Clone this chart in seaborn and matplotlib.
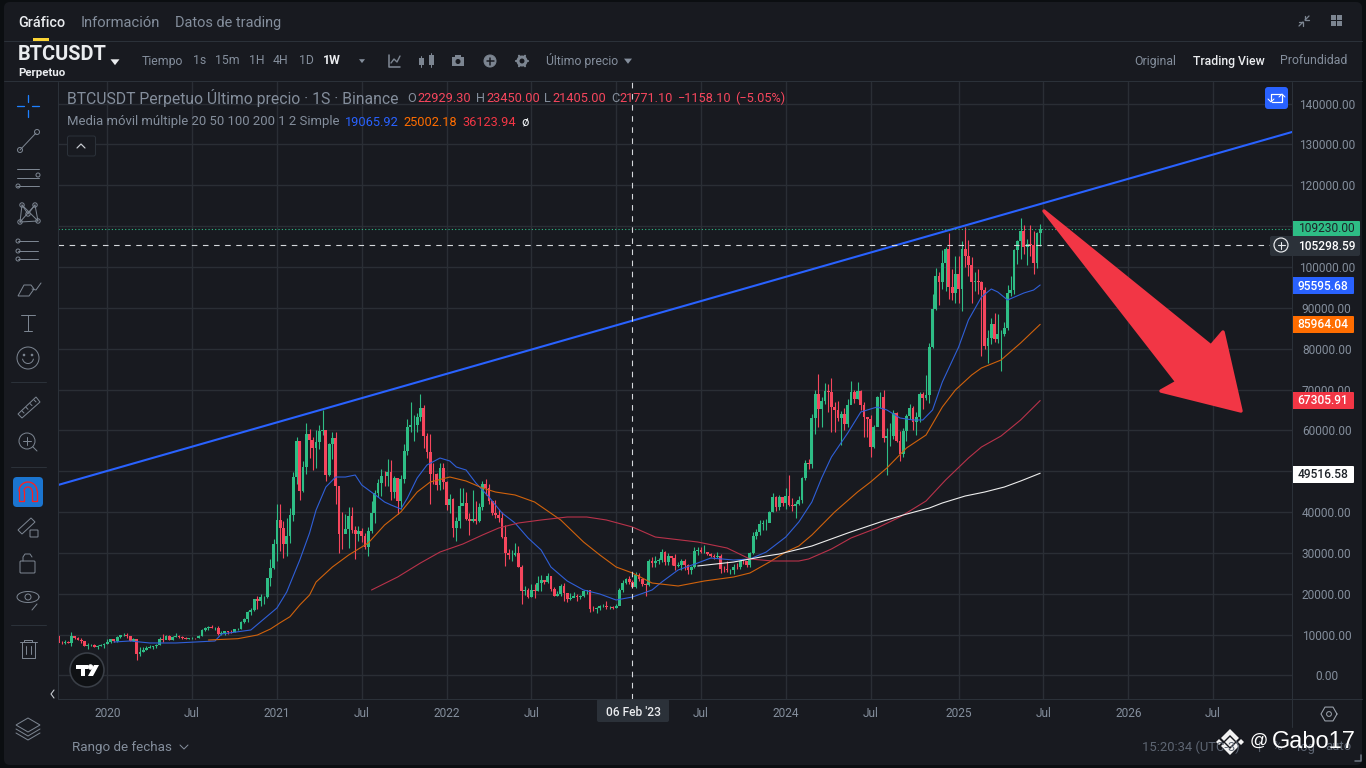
import matplotlib
matplotlib.use("Agg")
import matplotlib.pyplot as plt
import numpy as np
import pandas as pd
import seaborn as sns
from matplotlib.patches import Circle, FancyBboxPatch, Polygon, Rectangle

# weekly BTCUSDT candles, first week is 23 Sep 2019, last is 30 Jun 2025
first_open = 9700
closes_2019 = [8040, 7860, 8280, 7960, 9550, 9200, 8800, 8460, 7320, 7400, 7510, 7070, 7200, 7380, 7750]
highs_2019 = [10060, 8530, 8780, 8470, 10540, 9590, 9500, 9080, 8490, 7860, 7760, 7590, 7520, 7690, 7850]
lows_2019 = [7980, 7700, 7780, 7880, 7300, 8990, 8700, 8000, 7180, 6530, 7150, 7030, 6440, 7100, 6850]

closes_2020 = [8180, 8900, 8440, 9330, 9910, 9920, 9660, 8530, 8900, 5180, 5820, 6240, 6770,
               6860, 7120, 7540, 8880, 8720, 9670, 8720, 9450, 9670, 9470, 9300, 9000, 9070,
               9300, 9160, 9700, 11050, 11680, 11850, 11650, 11650, 10250, 10320, 10920, 10730, 10670,
               11370, 11500, 13030, 13760, 15480, 15970, 18680, 18180, 19150, 19170, 23870, 26400, 32170]
highs_2020 = [8880, 8990, 8790, 9550, 9950, 10500, 10370, 9700, 9200, 8170, 6900, 6970, 7190,
              7460, 7300, 7780, 9460, 10070, 9950, 9800, 9600, 10380, 10000, 9690, 9340, 9270,
              9470, 9300, 9850, 11420, 11800, 12090, 12470, 11790, 12050, 10780, 11000, 10990, 11050,
              11500, 11720, 13240, 14100, 15700, 16480, 18800, 19450, 19850, 19450, 23950, 28400, 33300]
lows_2020 = [7680, 8000, 8220, 8270, 9150, 9700, 9300, 8420, 8380, 3800, 4800, 5700, 6150,
             6800, 6570, 6720, 7470, 8200, 8820, 8650, 8630, 9350, 9200, 8900, 8830, 8850,
             8880, 9050, 9100, 9600, 10900, 11200, 11550, 11150, 9800, 9880, 9830, 10130, 10370,
             10530, 11180, 11400, 12750, 13200, 14800, 15850, 16300, 17000, 17550, 18900, 21900, 26000]

closes_2021 = [38150, 36020, 32280, 34260, 39250, 48600, 57400, 45250, 50970, 59000, 57650, 55800, 57050,
               59770, 60000, 49100, 56600, 58200, 46400, 34700, 34600, 35800, 39000, 35600, 34700, 35300,
               34250, 31530, 35400, 39870, 44600, 47050, 48900, 48850, 49900, 45000, 48300, 42700, 48200,
               54960, 60860, 61300, 61300, 63270, 65500, 58600, 54750, 49400, 49300, 46700, 50800, 47300]
highs_2021 = [41950, 42000, 37850, 38550, 40950, 49700, 58350, 57500, 52600, 61700, 60400, 58400, 60000,
              61200, 64900, 57500, 57000, 59500, 59600, 45800, 40000, 39500, 41300, 41300, 36700, 36500,
              36000, 35000, 36400, 42600, 45300, 48100, 50500, 50000, 52900, 52800, 48800, 48300, 49200,
              56600, 62900, 67000, 63700, 64300, 69000, 66300, 59400, 59100, 51900, 49500, 51900, 52100]
lows_2021 = [28000, 30400, 28800, 29300, 32400, 37900, 47000, 43000, 45000, 49300, 53200, 50400, 50800,
             55500, 58900, 47500, 48800, 52900, 42100, 30000, 31000, 34900, 31100, 34800, 28600, 33000,
             32700, 30900, 29300, 34900, 37400, 43800, 43900, 46400, 46500, 42900, 43400, 39500, 40800,
             47100, 53900, 59500, 57400, 59500, 62300, 55600, 53300, 42000, 46800, 45500, 45500, 45700]

closes_2022 = [41800, 43100, 36200, 37900, 41400, 42200, 38350, 37700, 38400, 37800, 41300, 46850, 45800,
               42760, 39700, 39400, 38600, 34000, 30080, 29440, 29450, 29900, 26570, 20570, 21030, 19300,
               20840, 20780, 22580, 23300, 22940, 24300, 21170, 19550, 19990, 21800, 20120, 18800, 19040,
               19440, 19260, 19570, 20630, 20920, 16330, 16280, 16430, 17090, 17100, 16750, 16840, 16540]
highs_2022 = [47500, 44500, 43500, 38900, 45800, 45800, 44800, 39800, 45400, 42600, 42300, 47700, 48200,
              47000, 41600, 42900, 40800, 40000, 36800, 31000, 30700, 32400, 31600, 27000, 21900, 21500,
              22500, 22400, 24300, 24700, 23500, 25100, 24400, 21700, 20600, 22300, 22700, 19700, 20100,
              20500, 19900, 19700, 20900, 21000, 21000, 17100, 16800, 17300, 17400, 18300, 16900, 16950]
lows_2022 = [40500, 39700, 34000, 32900, 36200, 41700, 38000, 34300, 37500, 37100, 37600, 40500, 44200,
             42100, 39200, 38500, 37600, 33600, 26700, 28600, 28000, 29300, 26500, 17600, 19600, 18900,
             19300, 18900, 20700, 20700, 22400, 22700, 20800, 19500, 19500, 19500, 18300, 18100, 18500,
             19100, 18200, 18650, 19300, 20000, 15600, 15800, 15400, 16000, 16700, 16300, 16350, 16300]

closes_2023 = [17130, 20870, 22710, 23730, 22929.3, 21771.1, 24600, 23550, 22340, 22160, 27960, 27480, 27960,
               28320, 30300, 27800, 29200, 28880, 26900, 27100, 28080, 27100, 25900, 26500, 30500, 30600,
               30300, 30300, 29770, 29350, 29050, 29300, 26100, 26000, 25800, 25900, 26600, 26570, 27970,
               27920, 27150, 29990, 34070, 35030, 37050, 37380, 37450, 39970, 43790, 41370, 43700, 42150]
highs_2023 = [17400, 21300, 23400, 23850, 24250, 23450, 25250, 25000, 23900, 22600, 28600, 28900, 29200,
              28800, 31000, 30500, 30000, 29300, 29800, 27700, 28450, 28450, 27350, 26800, 31400, 31400,
              31500, 31850, 30350, 30000, 29700, 30200, 29700, 26800, 28150, 26100, 27400, 27500, 28050,
              28600, 28000, 30350, 35200, 35900, 38000, 37950, 38400, 40250, 44700, 44000, 44300, 43800]
lows_2023 = [16500, 17300, 20400, 22300, 22500, 21405, 21400, 23100, 21900, 19550, 21900, 26600, 26500,
             27200, 27800, 27100, 26950, 26950, 25800, 26500, 25900, 25850, 24800, 24800, 26300, 29500,
             29900, 29950, 29500, 28900, 28600, 28650, 25150, 25350, 25350, 24900, 24950, 26000, 26000,
             27200, 26550, 26550, 29800, 33400, 34500, 35500, 35600, 37500, 39950, 40250, 40500, 41400]

closes_2024 = [43950, 41730, 41580, 42030, 43000, 48300, 52140, 51700, 63100, 68950, 65300, 67200, 69600,
               69350, 65650, 64950, 63100, 64000, 61500, 66250, 69300, 67750, 69650, 66200, 63200, 62700,
               55850, 60800, 68150, 68250, 58100, 58700, 58700, 64200, 57300, 54150, 59950, 63600, 65600, 62000,
               63200, 69000, 68000, 68700, 80400, 89800, 97900, 96400, 101100, 104400, 95100, 93600, 98300]
highs_2024 = [45900, 49100, 43500, 42800, 43900, 48600, 52850, 52950, 64000, 70000, 73900, 68100, 71700,
              71300, 72800, 66900, 67300, 64700, 65500, 67700, 72000, 70000, 71900, 70000, 67000, 63400,
              63800, 61400, 68400, 69400, 70000, 60700, 61800, 65000, 64500, 59800, 60700, 64100, 66500, 66000,
              64500, 69500, 69500, 73600, 81500, 93500, 99800, 98700, 104100, 105000, 108300, 99500, 102700]
lows_2024 = [40750, 41500, 40200, 38500, 41800, 42250, 47800, 50500, 50900, 59000, 60800, 60800, 66500,
             64500, 59600, 59600, 62400, 56500, 60200, 60800, 66600, 66600, 67600, 65100, 58400, 58400,
             53500, 55700, 62400, 65400, 57200, 49000, 56100, 57800, 57200, 52500, 53600, 57500, 62700, 60000,
             58900, 62000, 65300, 67500, 66800, 80200, 89400, 90800, 94500, 94200, 92200, 92000, 91200]

closes_2025 = [94500, 104400, 102600, 100600, 96400, 96500, 96300, 94300, 80700, 82500, 86000, 82400, 83500,
               83700, 85100, 93700, 94300, 104100, 106400, 108900, 105000, 105700, 105500, 100900, 108300, 109230]
highs_2025 = [102700, 106400, 109900, 106500, 102500, 98800, 99500, 96500, 95000, 84700, 87500, 88700, 88500,
              84500, 86500, 95700, 97900, 104300, 106700, 112000, 110400, 106800, 110300, 108900, 108500, 110500]
lows_2025 = [91300, 89300, 100000, 97800, 91200, 94100, 93400, 78200, 80000, 76600, 81100, 81600, 81300,
             74500, 83100, 84700, 92900, 93400, 100700, 102000, 103100, 100400, 102700, 98200, 99700, 105100]

# moving averages at a sample of weeks
ma20_weeks = [17, 22, 28, 36, 42, 48, 50, 59, 67, 70, 74, 77, 79, 82, 85, 88, 91, 93, 98, 100, 102, 105, 107, 110,
              113, 117, 120, 122, 125, 128, 132, 136, 140, 144, 148, 151, 156, 161, 166, 171, 176, 182, 185, 190,
              196, 200, 207, 212, 217, 223, 227, 231, 234, 237, 242, 246, 251, 254, 258, 262, 265, 268, 271, 276,
              279, 283, 286, 288, 291, 296, 299, 301]
ma20_values = [8200, 8450, 7960, 7960, 8200, 8450, 10160, 11140, 16520, 20440, 28270, 34880, 40510, 46140, 48590,
               48590, 49080, 46630, 43700, 42470, 41740, 40760, 43450, 48350, 51530, 53240, 52510, 51040, 50300,
               47120, 43700, 39780, 37330, 33660, 30720, 26560, 23130, 20930, 19950, 18480, 19220, 20930, 22890,
               25830, 27540, 28760, 28270, 28520, 30230, 33900, 37580, 42470, 48350, 53490, 59360, 64510, 65730,
               65000, 63040, 62550, 62550, 65000, 71850, 80420, 87030, 92660, 94620, 93880, 91920, 93640, 94370, 95595]
ma50_weeks = [46, 55, 61, 65, 68, 71, 74, 77, 79, 84, 89, 95, 100, 105, 110, 114, 120, 125, 130, 134, 140, 146, 150,
              154, 161, 166, 171, 176, 182, 190, 198, 207, 212, 218, 223, 227, 231, 238, 245, 249, 254, 260, 266,
              271, 275, 280, 283, 289, 295, 301]
ma50_values = [8690, 9010, 9910, 11380, 12930, 14400, 17260, 19700, 22890, 26560, 29500, 32440, 36840, 40030, 44920,
               47370, 48590, 47610, 45900, 44920, 44190, 42470, 40270, 38070, 32680, 29500, 26560, 25090, 22640,
               21910, 23130, 24110, 25090, 27780, 30230, 31700, 34390, 40030, 44920, 47370, 50800, 55690, 58870,
               65730, 69890, 73560, 75280, 77230, 81400, 85964]
ma100_weeks = [96, 104, 111, 117, 124, 130, 135, 141, 148, 156, 162, 168, 176, 183, 196, 205, 212, 219, 227, 230,
               237, 243, 251, 258, 266, 272, 279, 283, 289, 295, 301]
ma100_values = [20930, 24110, 27540, 30230, 32190, 34390, 36110, 37330, 38070, 38800, 38800, 38070, 36350, 33900,
                32680, 31210, 28520, 28030, 28030, 28520, 30960, 33660, 36110, 38800, 42720, 47860, 53240, 55940,
                58630, 62550, 67305]
ma200_weeks = [196, 207, 217, 221, 231, 242, 252, 259, 267, 271, 278, 284, 290, 295, 301]
ma200_values = [26810, 27780, 29250, 29740, 31700, 34880, 37580, 39290, 41000, 42230, 43940, 44920, 46140, 47610, 49516]

trend_weeks = [-0.12, 378.2]
trend_prices = [46630, 133050]

y_ticks = [0, 10000, 20000, 30000, 40000, 50000, 60000, 70000, 80000, 90000, 100000, 110000, 120000, 130000, 140000]
x_ticks = [15, 41, 67, 93, 119, 145, 171, 197, 223, 249, 276, 302, 328, 354]
x_labels = ["2020", "Jul", "2021", "Jul", "2022", "Jul", "2023", "Jul", "2024", "Jul", "2025", "Jul", "2026", "Jul"]

last_price = 109230.00
cross_price = 105298.59
cross_week = 176

BG = "#181a20"
EDGE = "#0b0e11"
LINE = "#2b3139"
GRID = "#2a2e35"
GRAY = "#848e9c"
ICON = "#7c8591"
GREEN = "#2ebd85"
RED = "#f6465d"
ALERT = "#f23645"
BLUE = "#2962ff"
ORANGE = "#ff6d00"

sns.set_theme(style="dark", rc={"axes.facecolor": BG, "figure.facecolor": EDGE, "axes.edgecolor": BG})
plt.rcParams["font.family"] = ["Roboto", "DejaVu Sans"]

candles = pd.DataFrame({
    "close": closes_2019 + closes_2020 + closes_2021 + closes_2022 + closes_2023 + closes_2024 + closes_2025,
    "high": highs_2019 + highs_2020 + highs_2021 + highs_2022 + highs_2023 + highs_2024 + highs_2025,
    "low": lows_2019 + lows_2020 + lows_2021 + lows_2022 + lows_2023 + lows_2024 + lows_2025,
})
candles["week"] = candles.index
candles["open"] = candles["close"].shift(1).fillna(first_open)
candles["color"] = np.where(candles["close"] >= candles["open"], GREEN, RED)

ma_df = pd.concat([
    pd.DataFrame({"week": ma20_weeks, "price": ma20_values, "ma": "20"}),
    pd.DataFrame({"week": ma50_weeks, "price": ma50_values, "ma": "50"}),
    pd.DataFrame({"week": ma100_weeks, "price": ma100_values, "ma": "100"}),
    pd.DataFrame({"week": ma200_weeks, "price": ma200_values, "ma": "200"}),
])
ma_palette = {"20": "#2f5fd8", "50": "#d0620c", "100": "#b8324a", "200": "#ededed"}

fig = plt.figure(figsize=(13.66, 7.68), dpi=100)
W, H = 1366.0, 768.0
bg = fig.add_axes([0, 0, 1, 1], zorder=0)
bg.set_xlim(0, W)
bg.set_ylim(H, 0)
bg.axis("off")
bg.add_patch(FancyBboxPatch((4, 2), W - 8, H - 5, boxstyle="round,pad=0,rounding_size=6", fc=BG, ec="none"))

ax = fig.add_axes([58 / W, (H - 699) / H, (1292 - 58) / W, (699 - 82) / H], zorder=1)
ax.set_facecolor(BG)
ax.set_xlim(-0.12, 378.2)
ax.set_ylim(-5753, 145289)
ax.set_xticks(x_ticks, x_labels)
ax.set_yticks(y_ticks, [f"{v:.2f}" for v in y_ticks])
ax.yaxis.tick_right()
ax.tick_params(axis="x", length=0, pad=5.5, labelsize=8.6, labelcolor=GRAY)
ax.tick_params(axis="y", length=0, pad=25, labelsize=8.6, labelcolor=GRAY)
for t in ax.get_yticklabels():
    t.set_horizontalalignment("center")
ax.grid(True, color=GRID, lw=1.0)
for s in ax.spines.values():
    s.set_visible(False)
ax.set_axisbelow(True)

ax.vlines(candles["week"], candles["low"], candles["high"], colors=candles["color"], lw=0.8, zorder=2)
ax.bar(candles["week"], (candles["close"] - candles["open"]).abs(),
       bottom=candles[["open", "close"]].min(axis=1), width=0.86, color=candles["color"], lw=0, zorder=3)

sns.lineplot(data=ma_df, x="week", y="price", hue="ma", palette=ma_palette, estimator=None, sort=False,
             legend=False, lw=0.8, ax=ax, zorder=4)
sns.lineplot(x=trend_weeks, y=trend_prices, color=BLUE, lw=1.5, ax=ax, zorder=5)
ax.set_xlabel("")
ax.set_ylabel("")
ax.axhline(last_price, color=GREEN, lw=0.8, ls=(0, (1, 2)), zorder=5)
ax.axhline(cross_price, color="#d5d8dc", lw=0.8, ls=(0, (5, 5)), zorder=6)
ax.axvline(cross_week, color="#d5d8dc", lw=0.8, ls=(0, (5, 5)), zorder=6)

# everything around the plot, in screen pixels
ui = fig.add_axes([0, 0, 1, 1], zorder=2)
ui.set_xlim(0, W)
ui.set_ylim(H, 0)
ui.patch.set_alpha(0)
ui.axis("off")
ui.autoscale(False)


def txt(x, y, s, c=GRAY, px=12, ha="left", weight="normal", **kw):
    return ui.text(x, y, s, color=c, fontsize=px * 0.72, ha=ha, va="center", fontweight=weight, **kw)


def seg(xs, ys, c=ICON, lw=1.0):
    ui.plot(xs, ys, color=c, lw=lw * 0.72, solid_capstyle="round", solid_joinstyle="round")


def ring(x, y, r, ec=ICON, fc="none", lw=1.0):
    ui.add_patch(Circle((x, y), r, fc=fc, ec=ec, lw=lw * 0.72))


def rbox(x0, y0, x1, y1, fc, ec="none", r=2):
    ui.add_patch(FancyBboxPatch((x0, y0), x1 - x0, y1 - y0, boxstyle=f"round,pad=0,rounding_size={r}",
                                fc=fc, ec=ec, lw=0.72))


def tri(x, y, s, c):
    ui.add_patch(Polygon([(x - s, y - s * 0.6), (x + s, y - s * 0.6), (x, y + s * 0.7)], fc=c, ec="none"))


# separators
seg([4, 1362], [41, 41], LINE)
seg([4, 1362], [81, 81], LINE)
seg([58, 58], [82, 699], LINE)
seg([58, 1362], [699, 699], LINE)
seg([1292, 1292], [82, 727], LINE)

# header
txt(18, 23, "Gráfico", "#eaecef", 14.4, weight="medium")
txt(81, 23, "Información", GRAY, 14.7)
txt(175, 23, "Datos de trading", GRAY, 14.5)
ui.add_patch(Rectangle((33, 38), 16, 3, fc="#fcd535", ec="none"))
txt(18, 54, "BTCUSDT", "#eaecef", 20, weight="bold")
txt(18, 73, "Perpetuo", "#eaecef", 11.5, weight="bold")
tri(115, 62, 4.5, "#eaecef")
for xp, s in [(142, "Tiempo"), (193, "1s"), (215, "15m"), (249, "1H"), (273, "4H"), (299, "1D")]:
    txt(xp, 61, s, GRAY, 12.2)
txt(323, 61, "1W", "#eaecef", 12.2, weight="bold")
tri(362, 61, 3, GRAY)
txt(546, 61, "Último precio", GRAY, 12.2)
tri(628, 61, 4, GRAY)
txt(1134, 61, "Original", GRAY, 12.2)
txt(1193, 61, "Trading View", "#eaecef", 12.2, weight="medium")
txt(1280, 61, "Profundidad", GRAY, 12.2)

# toolbar icons
seg([389, 389, 400], [55, 67, 67], ICON, 1.6)
seg([391, 394, 397, 400], [63, 59, 62, 56], ICON, 1.4)
for xp, y0, y1 in [(421, 58, 65), (431, 55, 65)]:
    seg([xp, xp], [y0 - 2, y1 + 2], ICON, 1)
    ui.add_patch(Rectangle((xp - 2.5, y0), 5, y1 - y0, fc=ICON, ec="none"))
ui.add_patch(Rectangle((452, 57), 12, 9, fc=ICON, ec="none"))
ui.add_patch(Rectangle((455, 55), 6, 2, fc=ICON, ec="none"))
ring(458, 61.5, 2, BG, BG)
ring(490, 61, 6, ICON, ICON)
seg([486.5, 493.5], [61, 61], BG, 1.5)
seg([490, 490], [57.5, 64.5], BG, 1.5)
ring(522, 61, 4, ICON, "none", 3)
for a in np.arange(0, 360, 60):
    seg([522 + 4.5 * np.cos(np.radians(a)), 522 + 6 * np.cos(np.radians(a))],
        [61 + 4.5 * np.sin(np.radians(a)), 61 + 6 * np.sin(np.radians(a))], ICON, 2.2)

# top right icons
seg([1299, 1303], [26, 22], ICON, 1.3)
seg([1305, 1309], [20, 16], ICON, 1.3)
seg([1299, 1303, 1303], [22, 22, 26], ICON, 1.3)
seg([1305, 1305, 1309], [16, 20, 20], ICON, 1.3)
for xp, yp in [(1331, 15), (1337, 15), (1331, 21), (1337, 21)]:
    ui.add_patch(Rectangle((xp, yp), 5, 5, fc=ICON, ec="none"))

# legend rows
txt(67, 98, "BTCUSDT Perpetuo Último precio · 1S · Binance", GRAY, 15.8)
for xp, s in [(407, "O"), (476, "H"), (544, "L"), (611, "C")]:
    txt(xp, 98, s, GRAY, 12.7)
for xp, s in [(417, "22929.30"), (486, "23450.00"), (552, "21405.00"), (619, "21771.10"),
              (678, "−1158.10"), (735, "(−5.05%)")]:
    txt(xp, 98, s, RED, 12.7)
txt(67, 122, "Media móvil múltiple 20 50 100 200 1 2 Simple", GRAY, 13.1)
txt(345, 122, "19065.92", BLUE, 12.7)
txt(403, 122, "25002.18", ORANGE, 12.7)
txt(462, 122, "36123.94", ALERT, 12.7)
txt(521, 122, "ø", "#eaecef", 13)
rbox(67.5, 136, 95.5, 156, BG, LINE, 2)
seg([77, 81, 85], [148, 144, 148], "#c8ccd2", 1.2)
rbox(1265, 87, 1288, 109, "#2962ff", "none", 3)
seg([1271, 1271, 1281], [101, 94, 94], "#ffffff", 1.2)
seg([1282, 1282, 1272], [95, 102, 102], "#ffffff", 1.2)
seg([1279, 1282, 1285], [97, 94, 97], "#ffffff", 1.0)
seg([1268, 1271, 1274], [99, 102, 99], "#ffffff", 1.0)

# price labels on the right axis
rbox(1292, 221, 1360, 236, GREEN, r=1)
txt(1327, 229, "109230.00", "#1e2329", 12, ha="center")
rbox(1270, 236, 1360, 256, "#2b3139", r=2)
txt(1327, 246, "105298.59", "#ffffff", 12, ha="center", weight="medium")
ring(1281, 245, 7, "#eaecef", "none", 1.2)
seg([1277.5, 1284.5], [245, 245], "#eaecef", 1.1)
seg([1281, 1281], [241.5, 248.5], "#eaecef", 1.1)
for y0, y1, fc, tc, s in [(277, 294, BLUE, "#ffffff", "95595.68"), (316, 333, ORANGE, "#ffffff", "85964.04"),
                          (392, 409, ALERT, "#ffffff", "67305.91"), (466, 483, "#ffffff", "#1e2329", "49516.58")]:
    rbox(1292, y0, 1354, y1, fc, r=1)
    txt(1323, (y0 + y1) / 2 + 0.5, s, tc, 12, ha="center", weight="medium")

# crosshair date
rbox(597, 699, 669, 722, "#2b3139", r=2)
txt(633, 712, "06 Feb '23", "#eaecef", 12, ha="center", weight="medium")

# the big hand drawn arrow
ui.add_patch(Polygon([(1044, 211), (1211, 346), (1223, 332), (1241, 411), (1161, 391), (1177, 382)],
                     closed=True, fc=ALERT, ec=ALERT, lw=2.5, joinstyle="round"))

# left tool bar
seg([17, 24], [106, 106], "#1e80ff", 1.3)
seg([32, 39], [106, 106], "#1e80ff", 1.3)
seg([28, 28], [95, 102], "#1e80ff", 1.3)
seg([28, 28], [110, 117], "#1e80ff", 1.3)
seg([20, 36], [150, 133], ICON)
ring(20, 150, 2.5, ICON, BG)
ring(37, 132, 2.5, ICON, BG)
for yp in [169, 178, 186]:
    seg([17, 39], [yp, yp], ICON)
ring(38, 175, 2, ICON, BG)
ring(18, 186, 2, ICON, BG)
pts = [(20, 222), (22, 205), (28, 214), (35, 205), (38, 221), (20, 222)]
seg([p[0] for p in pts], [p[1] for p in pts], ICON)
seg([22, 38], [205, 221], ICON)
seg([35, 20], [205, 222], ICON)
for p in pts[:5]:
    ring(p[0], p[1], 2.2, ICON, BG)
for yp, x0 in [(241, 18), (251, 18), (259, 18)]:
    seg([x0, 38], [yp, yp], ICON)
    ring(x0, yp, 2, ICON, BG)
ui.add_patch(Polygon([(18, 296), (24, 285), (31, 285), (34, 289), (29, 296)], fc="none", ec=ICON, lw=0.72))
seg([32, 36, 41], [289, 290, 283], ICON)
seg([21, 35], [315, 315], ICON)
seg([28, 28], [315, 331], ICON)
seg([24, 32], [331, 331], ICON)
ring(28, 358, 11)
ring(24, 355, 0.8, ICON, ICON)
ring(32, 355, 0.8, ICON, ICON)
th = np.linspace(0.2, np.pi - 0.2, 20)
seg(28 + 5.5 * np.cos(th), 358 + 5.5 * np.sin(th), ICON)
seg([11, 46], [382, 382], LINE)
ui.add_patch(Polygon([(18, 414), (36, 397), (40, 402), (22, 418)], fc="none", ec=ICON, lw=0.72))
for k in range(4):
    seg([22 + k * 4, 24 + k * 4], [411 - k * 3.7, 413 - k * 3.7], ICON)
ring(27, 441, 8)
seg([23, 31], [441, 441], ICON)
seg([27, 27], [437, 445], ICON)
seg([33, 37], [447, 451], ICON)
seg([11, 46], [467, 467], LINE)
rbox(13, 477, 43, 507, "#1b75d0", r=4)
th = np.linspace(np.pi, 2 * np.pi, 20)
seg(28 + 9 * np.cos(th), 491 + 9 * np.sin(th), "#ff2020", 1.3)
seg(28 + 4 * np.cos(th), 491 + 4 * np.sin(th), "#ff2020", 1.3)
seg([19, 19, 24, 24], [491, 501, 501, 491], "#ff2020", 1.3)
seg([32, 32, 37, 37], [491, 501, 501, 491], "#ff2020", 1.3)
ui.add_patch(Polygon([(18, 530), (31, 518), (35, 522), (22, 534)], fc="none", ec=ICON, lw=0.72))
rbox(30, 530, 38, 537, "none", ICON, 0.5)
rbox(20, 561, 35, 573, "none", ICON, 1)
seg([23, 23, 25, 30, 32], [561, 557, 554, 554, 557], ICON)
th = np.linspace(0, 2 * np.pi, 40)
seg(28 + 11 * np.cos(th), 597 + 5.5 * np.sin(th), ICON)
ring(28, 597, 3)
seg([32, 37], [610, 604], ICON)
seg([11, 46], [625, 625], LINE)
seg([20, 37], [642, 642], ICON)
seg([24, 24, 32, 32], [642, 640, 640, 642], ICON)
seg([22, 22, 35, 35], [642, 658, 658, 642], ICON)
seg([26, 26], [646, 654], ICON)
seg([31, 31], [646, 654], ICON)
seg([54, 51, 54], [690, 694, 698], "#c8ccd2", 1.1)
ui.add_patch(Polygon([(28, 718), (40, 725), (28, 732), (16, 725)], fc="none", ec=ICON, lw=0.72))
seg([16, 28, 40], [729, 736, 729], ICON)
seg([16, 28, 40], [733, 740, 733], ICON)

# logo badge
ring(87, 670, 17, "#3a3f47", "#0f1114", 1.6)
ui.add_patch(Polygon([(76, 665), (88, 665), (88, 669), (85, 669), (85, 676), (81, 676), (81, 669), (76, 669)],
                     fc="white", ec="none"))
ring(90.5, 667, 2.2, "white", "white")
ui.add_patch(Polygon([(94, 665), (99, 665), (93, 676), (88, 676)], fc="white", ec="none"))

# bottom row
txt(72, 747, "Rango de fechas", GRAY, 13.4)
seg([180, 184, 188], [745, 749, 745], GRAY, 1)
pts = [(1329 + 8 * np.cos(np.radians(a)), 714 + 8 * np.sin(np.radians(a))) for a in range(0, 361, 60)]
seg([p[0] for p in pts], [p[1] for p in pts], "#9aa1ab", 1.1)
ring(1329, 714, 2.4, "#9aa1ab")
txt(1142, 747, "15:20:34 (UTC-3)", "#5e6673", 13)
txt(1258, 747, "|", "#5e6673", 13)
txt(1272, 747, "%", "#5e6673", 13)
txt(1297, 747, "log", "#5e6673", 13)
txt(1325, 747, "auto", "#5e6673", 13)
seg([1355, 1361, 1361], [761, 761, 755], "#6b7380", 1.6)

# watermark on top
for cx, cy, s in [(1219, 742, 3), (1241, 742, 3), (1230, 742, 5)]:
    ui.add_patch(Polygon([(cx - s, cy), (cx, cy - s), (cx + s, cy), (cx, cy + s)], fc="#f2f2f2", ec="none"))
ui.add_patch(Polygon([(1230, 729), (1239, 738), (1236, 741), (1230, 735), (1224, 741), (1221, 738)],
                     fc="#f2f2f2", ec="none"))
ui.add_patch(Polygon([(1230, 755), (1239, 746), (1236, 743), (1230, 749), (1224, 743), (1221, 746)],
                     fc="#f2f2f2", ec="none"))
ui.text(1250, 741, "@", color="#ffffff", fontsize=13, family="Liberation Sans", ha="left", va="center")
ui.text(1272, 742, "Gabo17", color="#ffffff", fontsize=17, family="Liberation Sans", ha="left", va="center")

fig.savefig("out.png", dpi=100, facecolor=EDGE)
